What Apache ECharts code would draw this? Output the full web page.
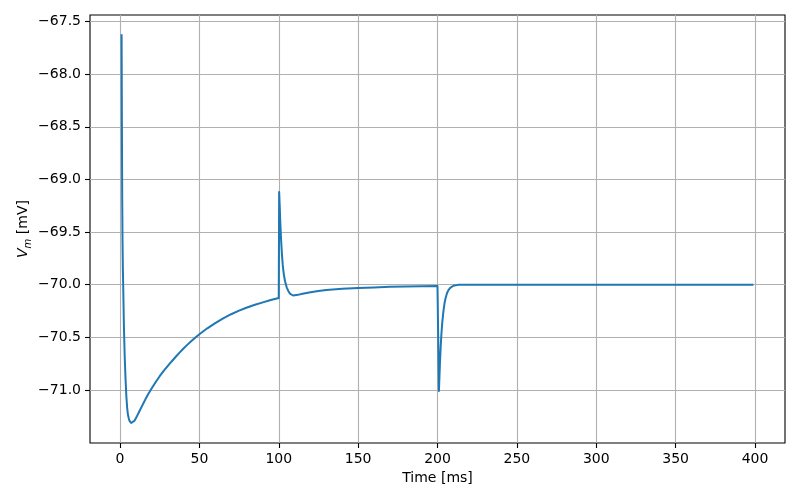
<!DOCTYPE html>
<html>
<head>
<meta charset="utf-8">
<script src="https://cdn.jsdelivr.net/npm/echarts@6/dist/echarts.min.js"></script>
<style>
html,body{margin:0;padding:0;background:#fff;}
#chart{width:800px;height:500px;}
</style>
</head>
<body>
<div id="chart"></div>
<script>
// Time points (ms)
const timeMs = [
  1.0, 1.2, 1.4, 1.6, 1.8, 2.0, 2.5, 3.0, 3.5, 4.0, 4.5, 5.0, 5.5, 6.0, 6.5, 7.0, 7.5, 8.0, 9, 10,
  11, 12, 13, 14, 15, 16, 18, 20, 22.5, 25, 27.5, 30, 32.5, 35, 37.5, 40, 42.5, 45, 47.5, 50,
  55, 60, 65, 70, 75, 80, 85, 90, 95, 100.0,
  100.25, 100.6, 101.0, 101.5, 102.0, 102.5, 103.0, 103.5, 104.0, 105, 106, 107, 108, 109, 110,
  112, 115, 120, 125, 130, 140, 150, 160, 170, 180, 190, 200.0,
  200.45, 200.9, 201.5, 202, 202.5, 203, 203.5, 204, 204.5, 205, 206, 207, 208, 209, 210, 211,
  213, 215, 220, 250, 300, 350, 399
];
// Membrane potential (mV)
const vmMv = [
  -67.62, -68.5, -69.2, -69.6, -69.85, -70.0, -70.42, -70.7, -70.9, -71.06, -71.17, -71.235, -71.27, -71.295, -71.31, -71.315, -71.315, -71.31, -71.295, -71.27,
  -71.24, -71.21, -71.18, -71.15, -71.12, -71.09, -71.035, -70.985, -70.925, -70.87, -70.82, -70.775, -70.73, -70.688, -70.646, -70.607, -70.57, -70.536, -70.503, -70.472,
  -70.415, -70.365, -70.32, -70.281, -70.247, -70.217, -70.191, -70.168, -70.146, -70.127,
  -69.12, -69.25, -69.42, -69.58, -69.71, -69.81, -69.88, -69.93, -69.97, -70.025, -70.06, -70.085, -70.098, -70.103, -70.103,
  -70.097, -70.087, -70.072, -70.06, -70.051, -70.04, -70.032, -70.026, -70.021, -70.018, -70.015, -70.013,
  -70.5, -71.01, -70.76, -70.59, -70.46, -70.36, -70.285, -70.22, -70.17, -70.135, -70.08, -70.05, -70.03, -70.017, -70.01, -70.006,
  -70.002, -70.001, -70.0, -70.0, -70.0, -70.0, -70.0
];
const xTickValues = [0, 50, 100, 150, 200, 250, 300, 350, 400];
const yTickValues = [-71.0, -70.5, -70.0, -69.5, -69.0, -68.5, -68.0, -67.5];

const seriesData = timeMs.map((t, i) => [t, vmMv[i]]);
const FONT = 'DejaVu Sans';
const fmtMinus = (v, d) => v.toFixed(d).replace('-', '\u2212');

const chart = echarts.init(document.getElementById('chart'), null, {renderer: 'canvas', width: 800, height: 500});
chart.setOption({
  animation: false,
  backgroundColor: '#ffffff',
  grid: {
    left: 90, right: 15, top: 15, bottom: 57,
    show: true, borderColor: '#000', borderWidth: 1.1, backgroundColor: 'transparent'
  },
  xAxis: {
    type: 'value',
    min: -18.9, max: 418.9,
    name: 'Time [ms]',
    nameLocation: 'middle',
    nameGap: 27,
    nameTextStyle: {fontFamily: FONT, fontSize: 14, color: '#000'},
    axisLine: {show: false, onZero: false},
    axisTick: {show: true, length: 5, lineStyle: {color: '#000', width: 1.1}, customValues: xTickValues},
    axisLabel: {fontFamily: FONT, fontSize: 14, color: '#000', margin: 9, customValues: xTickValues,
      formatter: v => fmtMinus(v, 0)},
    splitLine: {show: true, lineStyle: {color: '#b0b0b0', width: 1.1}}
  },
  yAxis: {
    type: 'value',
    min: -71.505, max: -67.437,
    name: '{i|V}{s|m}{n| [mV]}',
    nameLocation: 'middle',
    nameRotate: 90,
    nameGap: 57,
    nameMoveOverlap: false,
    nameTextStyle: {
      fontFamily: FONT, fontSize: 14, color: '#000',
      rich: {
        i: {fontFamily: FONT, fontSize: 14, fontStyle: 'italic', color: '#000', lineHeight: 20},
        s: {fontFamily: FONT, fontSize: 10, fontStyle: 'italic', color: '#000', verticalAlign: 'bottom', lineHeight: 20},
        n: {fontFamily: FONT, fontSize: 14, color: '#000', lineHeight: 20}
      }
    },
    axisLine: {show: false, onZero: false},
    axisTick: {show: true, length: 5, lineStyle: {color: '#000', width: 1.1}, customValues: yTickValues},
    axisLabel: {fontFamily: FONT, fontSize: 14, color: '#000', margin: 9, customValues: yTickValues,
      formatter: v => fmtMinus(v, 1)},
    splitLine: {show: true, lineStyle: {color: '#b0b0b0', width: 1.1}}
  },
  series: [{
    type: 'line',
    data: seriesData,
    showSymbol: false,
    symbol: 'none',
    lineStyle: {color: '#1f77b4', width: 2, join: 'round', cap: 'butt'},
    itemStyle: {color: '#1f77b4'},
    clip: true
  }]
});
</script>
</body>
</html>
